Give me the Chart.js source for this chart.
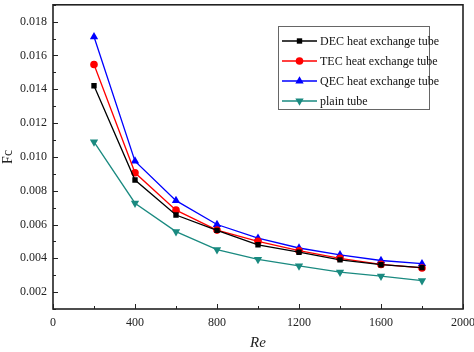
<!DOCTYPE html>
<html>
<head>
<meta charset="utf-8">
<script src="https://cdn.jsdelivr.net/npm/chart.js@4.4.1/dist/chart.umd.min.js"></script>
<style>
  html, body { margin: 0; padding: 0; background: #fff; }
  #wrap { width: 474px; height: 352px; position: relative; }
</style>
</head>
<body>
<div id="wrap"><canvas id="fc"></canvas></div>
<script>
// ===== Data =====
const reValues = [200, 400, 600, 800, 1000, 1200, 1400, 1600, 1800];
const decTube = [0.01421, 0.00863, 0.00656, 0.00565, 0.00480, 0.00436, 0.00391, 0.00362, 0.00345];
const tecTube = [0.01547, 0.00906, 0.00685, 0.00567, 0.00500, 0.00445, 0.00400, 0.00364, 0.00343];
const qecTube = [0.01711, 0.00975, 0.00741, 0.00600, 0.00519, 0.00461, 0.00420, 0.00387, 0.00368];
const plainTube = [0.01089, 0.00726, 0.00558, 0.00451, 0.00393, 0.00355, 0.00318, 0.00294, 0.00268];
const seriesNames = ["DEC heat exchange tube", "TEC heat exchange tube", "QEC heat exchange tube", "plain tube"];

const SERIF = "'Liberation Serif', 'Times New Roman', serif";
const toXY = (arr) => arr.map((v, i) => ({ x: reValues[i], y: v }));

function ds(label, data, color, style, radius, rotation = 0) {
  return {
    label,
    data: toXY(data),
    borderColor: color,
    backgroundColor: color,
    borderWidth: 1.3,
    pointStyle: style,
    pointRadius: radius,
    pointRotation: rotation,
    pointBorderWidth: 0,
    tension: 0,
  };
}

// ===== Frame, inward ticks, legend =====
const framePlugin = {
  id: "frame",
  afterDraw(chart) {
    const { ctx, chartArea: a, scales } = chart;
    ctx.save();
    ctx.strokeStyle = "#222";
    ctx.lineWidth = 1;
    // ticks (inward)
    scales.x.ticks.forEach((t) => {
      const px = Math.round(scales.x.getPixelForValue(t.value)) + 0.5;
      const len = t.value % 400 === 0 ? 5 : 3;
      ctx.beginPath();
      ctx.moveTo(px, a.bottom);
      ctx.lineTo(px, a.bottom - len);
      ctx.stroke();
    });
    scales.y.ticks.forEach((t) => {
      const py = Math.round(scales.y.getPixelForValue(t.value)) + 0.5;
      const len = Math.round(t.value * 1000) % 2 === 0 ? 5 : 3;
      ctx.beginPath();
      ctx.moveTo(a.left, py);
      ctx.lineTo(a.left + len, py);
      ctx.stroke();
    });
    // frame
    ctx.lineWidth = 1.6;
    ctx.strokeRect(a.left, a.top, a.right - a.left, a.bottom - a.top);

    // legend
    const lx = 278, ly = 26, lw = 151, lh = 83;
    ctx.lineWidth = 1;
    ctx.strokeStyle = "#666";
    ctx.strokeRect(lx + 0.5, ly + 0.5, lw, lh);
    chart.data.datasets.forEach((d, i) => {
      const y = 41 + i * 20;
      ctx.strokeStyle = d.borderColor;
      ctx.lineWidth = 1.3;
      ctx.beginPath();
      ctx.moveTo(282, y);
      ctx.lineTo(317, y);
      ctx.stroke();
      ctx.fillStyle = d.backgroundColor;
      Chart.helpers.drawPoint(ctx, {
        pointStyle: d.pointStyle,
        radius: d.pointRadius,
        rotation: d.pointRotation,
        borderWidth: 0,
      }, 299.5, y);
      ctx.fillStyle = "#111";
      ctx.font = "12px " + SERIF;
      ctx.textBaseline = "middle";
      ctx.textAlign = "left";
      ctx.fillText(d.label, 320, y + 1);
    });
    ctx.restore();
  },
};

new Chart(document.getElementById("fc"), {
  type: "line",
  data: {
    datasets: [
      ds(seriesNames[0], decTube, "#000000", "rect", 3.8),
      ds(seriesNames[1], tecTube, "#ff0000", "circle", 3.8),
      ds(seriesNames[2], qecTube, "#0000ff", "triangle", 4.8),
      ds(seriesNames[3], plainTube, "#1a8a80", "triangle", 4.8, 180),
    ],
  },
  options: {
    responsive: true,
    maintainAspectRatio: false,
    animation: false,
    layout: { padding: { top: 2, right: 11, left: 0, bottom: 0 } },
    plugins: { legend: { display: false }, tooltip: { enabled: false } },
    scales: {
      x: {
        type: "linear",
        min: 0,
        max: 2000,
        afterFit: (s) => { s.height = 43; s.paddingLeft = 0; s.paddingRight = 0; },
        border: { display: false },
        grid: { display: false, drawTicks: false },
        ticks: {
          stepSize: 200,
          padding: 7,
          maxRotation: 0,
          autoSkip: false,
          color: "#222",
          font: { family: SERIF, size: 12 },
          callback: (v) => (v % 400 === 0 ? String(v) : ""),
        },
        title: {
          display: true,
          text: "Re",
          color: "#222",
          padding: { top: 0, bottom: 0 },
          font: { family: SERIF, size: 15, style: "italic" },
        },
      },
      y: {
        min: 0.001,
        max: 0.019,
        afterFit: (s) => { s.width = 53; s.paddingTop = 0; s.paddingBottom = 0; },
        border: { display: false },
        grid: { display: false, drawTicks: false },
        ticks: {
          stepSize: 0.001,
          padding: 6,
          autoSkip: false,
          color: "#222",
          font: { family: SERIF, size: 12 },
          callback: (v) => (Math.round(v * 1000) % 2 === 0 ? v.toFixed(3) : ""),
        },
        title: {
          display: true,
          text: "Fc",
          color: "#222",
          padding: { top: 0, bottom: 0 },
          font: { family: SERIF, size: 14 },
        },
      },
    },
  },
  plugins: [framePlugin],
});
</script>
</body>
</html>
